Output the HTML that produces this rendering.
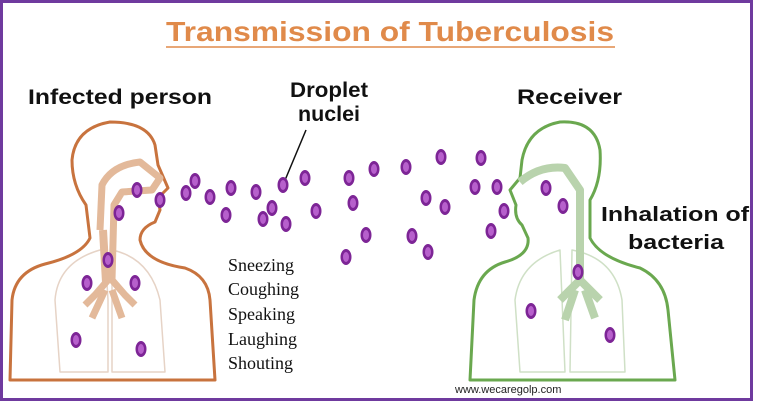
<!DOCTYPE html>
<html><head><meta charset="utf-8"><style>
html,body{margin:0;padding:0;background:#fff;}
svg{display:block}
</style></head><body>
<svg width="768" height="406" viewBox="0 0 768 406" xmlns="http://www.w3.org/2000/svg">
<defs>
<g id="d"><ellipse cx="0" cy="0" rx="5.5" ry="8" fill="#7d2596"/><ellipse cx="0" cy="0" rx="3" ry="5" fill="#b760cc"/></g>
</defs>
<rect x="0" y="0" width="768" height="406" fill="#fff"/>
<rect x="1.5" y="1.5" width="750" height="398" fill="none" stroke="#6f3a9e" stroke-width="3"/>
<text x="390" y="41" text-anchor="middle" font-family="Liberation Sans Narrow, Liberation Sans, sans-serif" font-weight="bold" font-size="28" fill="#e08a4a" textLength="448" lengthAdjust="spacingAndGlyphs">Transmission of Tuberculosis</text>
<line x1="166" y1="47" x2="615" y2="47" stroke="#e08a4a" stroke-width="1.5"/>
<g font-family="Liberation Sans Narrow, Liberation Sans, sans-serif" font-weight="bold" font-size="21" fill="#111">
<text x="28" y="104" textLength="184" lengthAdjust="spacingAndGlyphs">Infected person</text>
<text x="329" y="97" text-anchor="middle" textLength="78" lengthAdjust="spacingAndGlyphs">Droplet</text>
<text x="329" y="121" text-anchor="middle" textLength="62" lengthAdjust="spacingAndGlyphs">nuclei</text>
<text x="517" y="104" textLength="105" lengthAdjust="spacingAndGlyphs">Receiver</text>
</g>
<g font-family="Liberation Sans, sans-serif" font-weight="bold" font-size="20" fill="#111">
<text x="601" y="221" textLength="148" lengthAdjust="spacingAndGlyphs">Inhalation of</text>
<text x="676" y="249" text-anchor="middle" textLength="96" lengthAdjust="spacingAndGlyphs">bacteria</text>
</g>
<line x1="283" y1="185" x2="306" y2="130" stroke="#111" stroke-width="1.5"/>
<!-- left person -->
<g fill="none" stroke-linejoin="round">
<path d="M10,380 L12,300 Q15,272 45,264 Q82,255 90,238 L86,205 Q72,185 72,160 Q75,128 110,122 Q148,122 155,145 L158,165 L168,188 L158,198 L160,210 L155,222 Q140,228 140,240 Q145,262 185,268 Q208,276 210,300 L215,380 Z" stroke="#c8733e" stroke-width="3"/>
<path d="M60,372 L55,300 Q58,262 100,250 L105,250 L108,300 L108,372 Z M112,372 L112,250 Q150,258 160,300 L165,372 Z" stroke="#e6d3c6" stroke-width="1.5"/>
<path d="M100,230 L102,185 Q112,165 140,162 L160,178 L152,190 L122,192 L114,205 L112,280 L125,295 L135,305 M108,280 L95,295 L85,305 M112,290 L122,318 M105,290 L92,318" stroke="#e3b99a" stroke-width="7"/>
<path d="M103,230 L106,282" stroke="#e3b99a" stroke-width="8"/>
</g>
<!-- right person -->
<g fill="none" stroke-linejoin="round">
<path d="M470,380 L474,300 Q478,270 505,262 Q530,255 528,238 L522,225 Q514,218 516,205 L510,190 L520,178 L522,160 Q528,128 560,122 Q595,120 600,150 Q602,180 590,200 L590,238 Q600,258 640,268 Q665,280 668,310 L675,380 Z" stroke="#6aa84f" stroke-width="3"/>
<path d="M520,372 L515,300 Q520,262 560,250 L565,372 Z M570,372 L572,250 Q615,258 622,300 L625,372 Z" stroke="#cfe0c6" stroke-width="1.5"/>
<path d="M520,182 Q540,165 565,168 L580,190 L580,280 M580,280 L560,300 M580,280 L600,300 M575,290 L565,320 M585,290 L595,318" stroke="#b9d3ad" stroke-width="8"/>
</g>
<g font-family="Liberation Serif, serif" font-size="18" fill="#111">
<text x="228" y="271">Sneezing</text>
<text x="228" y="295">Coughing</text>
<text x="228" y="320">Speaking</text>
<text x="228" y="345">Laughing</text>
<text x="228" y="369">Shouting</text>
</g>
<text x="455" y="393" font-family="Liberation Sans, sans-serif" font-size="11" fill="#222">www.wecaregolp.com</text>
<g>
<use href="#d" x="137" y="190"/><use href="#d" x="160" y="200"/><use href="#d" x="119" y="213"/><use href="#d" x="108" y="260"/>
<use href="#d" x="87" y="283"/><use href="#d" x="135" y="283"/><use href="#d" x="76" y="340"/><use href="#d" x="141" y="349"/>
<use href="#d" x="186" y="193"/><use href="#d" x="195" y="181"/><use href="#d" x="210" y="197"/><use href="#d" x="231" y="188"/>
<use href="#d" x="226" y="215"/><use href="#d" x="256" y="192"/><use href="#d" x="283" y="185"/><use href="#d" x="305" y="178"/>
<use href="#d" x="272" y="208"/><use href="#d" x="263" y="219"/><use href="#d" x="286" y="224"/><use href="#d" x="316" y="211"/>
<use href="#d" x="349" y="178"/><use href="#d" x="353" y="203"/><use href="#d" x="346" y="257"/><use href="#d" x="366" y="235"/>
<use href="#d" x="374" y="169"/><use href="#d" x="406" y="167"/><use href="#d" x="441" y="157"/><use href="#d" x="481" y="158"/>
<use href="#d" x="412" y="236"/><use href="#d" x="426" y="198"/><use href="#d" x="445" y="207"/><use href="#d" x="428" y="252"/>
<use href="#d" x="475" y="187"/><use href="#d" x="497" y="187"/><use href="#d" x="491" y="231"/><use href="#d" x="504" y="211"/>
<use href="#d" x="546" y="188"/><use href="#d" x="563" y="206"/><use href="#d" x="578" y="272"/><use href="#d" x="531" y="311"/><use href="#d" x="610" y="335"/>
</g>
</svg>
</body></html>
